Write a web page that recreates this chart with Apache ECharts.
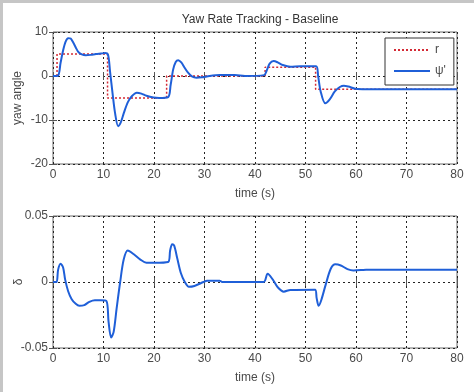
<!DOCTYPE html>
<html>
<head>
<meta charset="utf-8">
<script src="https://cdn.jsdelivr.net/npm/echarts@6/dist/echarts.min.js"></script>
<style>
html,body{margin:0;padding:0;background:#fff;}
#frame{position:absolute;left:0;top:0;width:474px;height:392px;box-sizing:border-box;border-top:3px solid #c6c6c6;border-left:3px solid #c6c6c6;}
#chart{position:absolute;left:0;top:0;width:474px;height:392px;}
</style>
</head>
<body>
<div id="frame"></div>
<div id="chart"></div>
<script>
// ---- data ----
var titleText = 'Yaw Rate Tracking - Baseline';
var xTicks = [0, 10, 20, 30, 40, 50, 60, 70, 80];
var yawTicks = [-20, -10, 0, 10];
var deltaTicks = [-0.05, 0, 0.05];

var refT   = [0, 0.8, 0.8, 10.8, 10.8, 22.5, 22.5, 42, 42, 52, 52, 80];
var refVal = [0, 0,   5,   5,    -5,   -5,   0,    0,  2,  2,  -3, -3];

var yawT = [0,1.0,1.5,2,2.5,3.0,3.5,4,4.5,5,5.7,6.5,7.5,8.5,9.5,10.3,10.9,11.3,11.8,12.3,12.9,13.4,14,14.8,15.6,16.6,17.5,18.5,19.9,21,22.8,23.3,23.8,24.3,24.8,25.4,26,26.7,27.5,28.4,29.5,31,33,36,38,41.8,42.3,42.9,43.7,44.5,45.5,47,49,52.1,52.5,53,53.9,54.8,55.8,56.8,57.6,58.5,59.9,62,70,80];
var yawVal = [0,0.1,3,5.8,7.8,8.6,8.5,7.6,6.5,5.5,4.9,4.7,4.8,5.0,5.1,5.2,4.8,1,-4,-8.5,-11.4,-10.6,-8.5,-6,-4.6,-3.8,-4,-4.5,-4.9,-5,-4.8,-2,1.5,3.2,3.6,3.1,2,0.8,-0.1,-0.4,-0.3,0,0.2,0.2,0,0.2,1.2,2.8,3.4,3.1,2.5,2.1,2.2,2.2,0,-3.5,-6.2,-5.3,-3.5,-2.5,-2.2,-2.4,-2.9,-3,-3,-3];

var deltaT = [0,0.7,1.0,1.5,2.0,2.4,3.0,3.7,4.5,5.2,6.2,7.2,8.3,9.5,10.6,11.0,11.5,12.0,12.6,13.3,14.0,14.8,16,17.3,18.5,20,22.8,23.2,23.6,24.0,24.6,25.3,26.1,26.9,28,29.8,30.5,33,33.5,41.7,42.5,43.5,44.5,45.7,47,51.9,52.2,52.6,53.1,54,55,55.9,57,58.3,59.5,61,62,80];
var deltaVal = [0,0,0.009,0.0138,0.011,0.002,-0.007,-0.013,-0.0165,-0.018,-0.0175,-0.015,-0.0138,-0.0138,-0.0145,-0.03,-0.042,-0.038,-0.02,0,0.017,0.0238,0.021,0.017,0.0146,0.0146,0.0152,0.024,0.0286,0.0275,0.018,0.007,0,-0.0036,-0.003,0,0.001,0.001,0,0,0.0063,0.002,-0.004,-0.0073,-0.006,-0.0058,-0.012,-0.018,-0.014,-0.002,0.01,0.0134,0.0125,0.0098,0.0088,0.009,0.0093,0.0093];

function zip(a, b){ return a.map(function(v,i){ return [v, b[i]]; }); }

var txt = '#4a4a4a';
var font = 'Liberation Sans, Arial, sans-serif';
var grids = [
  {left:53, top:32, width:404, height:132, show:true, borderColor:'#6a6a6a', borderWidth:1, backgroundColor:'#fff', containLabel:false, outerBoundsMode:'none'},
  {left:53, top:216, width:404, height:132, show:true, borderColor:'#6a6a6a', borderWidth:1, backgroundColor:'#fff', containLabel:false, outerBoundsMode:'none'}
];
var split = {show:true, lineStyle:{color:'#222', type:[2,3], width:1}};

function xAx(gi){
  return {type:'value', gridIndex:gi, min:0, max:80, interval:10,
    name:'time (s)', nameLocation:'middle', nameGap:24,
    nameTextStyle:{color:txt, fontSize:12, fontFamily:font},
    axisLine:{show:false}, axisTick:{show:true, inside:true, length:4, lineStyle:{color:'#555'}},
    axisLabel:{color:txt, fontSize:12, fontFamily:font, margin:5},
    splitLine:split};
}
function xTop(gi){
  return {type:'value', gridIndex:gi, min:0, max:80, interval:10, position:'top',
    axisLine:{show:false}, axisTick:{show:true, inside:true, length:4, lineStyle:{color:'#555'}},
    axisLabel:{show:false}, splitLine:{show:false}};
}

var option = {
  animation:false,
  backgroundColor:'transparent',
  title:{text:titleText, left:255, top:9, textAlign:'center',
    textStyle:{fontSize:12, fontWeight:'normal', color:'#333', fontFamily:font}},
  legend:{orient:'vertical', left:385, top:38, padding:[6,8,8,8], itemGap:9,
    itemWidth:36, itemHeight:10, backgroundColor:'#fff', borderColor:'#333', borderWidth:1,
    itemStyle:{opacity:0},
    textStyle:{color:txt, fontSize:12, fontFamily:font},
    data:[{name:'r'},{name:"ψ'"}]},
  grid:grids,
  xAxis:[xAx(0), xAx(1), xTop(0), xTop(1)],
  yAxis:[
    {type:'value', gridIndex:0, min:-20, max:10, interval:10,
      name:'yaw angle', nameLocation:'middle', nameGap:29, nameRotate:90, nameMoveOverlap:false,
      nameTextStyle:{color:txt, fontSize:12, fontFamily:font},
      axisLine:{show:false}, axisTick:{show:true, inside:true, length:4, lineStyle:{color:'#555'}},
      axisLabel:{color:txt, fontSize:12, fontFamily:font, margin:5}, splitLine:split},
    {type:'value', gridIndex:1, min:-0.05, max:0.05, interval:0.05,
      name:'δ', nameLocation:'middle', nameGap:28, nameRotate:90, nameMoveOverlap:false,
      nameTextStyle:{color:txt, fontSize:12, fontFamily:font},
      axisLine:{show:false}, axisTick:{show:true, inside:true, length:4, lineStyle:{color:'#555'}},
      axisLabel:{color:txt, fontSize:12, fontFamily:font, margin:5,
        formatter:function(v){ return Math.abs(v)<1e-9 ? '0' : v.toFixed(2); }}, splitLine:split},
    {type:'value', gridIndex:0, min:-20, max:10, interval:10, position:'right',
      axisLine:{show:false}, axisTick:{show:true, inside:true, length:4, lineStyle:{color:'#555'}},
      axisLabel:{show:false}, splitLine:{show:false}},
    {type:'value', gridIndex:1, min:-0.05, max:0.05, interval:0.05, position:'right',
      axisLine:{show:false}, axisTick:{show:true, inside:true, length:4, lineStyle:{color:'#555'}},
      axisLabel:{show:false}, splitLine:{show:false}}
  ],
  series:[
    {name:'r', type:'line', xAxisIndex:0, yAxisIndex:0, symbol:'none', silent:true,
      data:zip(refT, refVal), lineStyle:{color:'#d42a35', width:1.5, type:[2,2]}, itemStyle:{color:'#d42a35'}, z:3},
    {name:"ψ'", type:'line', xAxisIndex:0, yAxisIndex:0, symbol:'none', smooth:0.3, silent:true,
      data:zip(yawT, yawVal), lineStyle:{color:'#1f5fd8', width:2}, itemStyle:{color:'#1f5fd8'}, z:4},
    {name:'delta', type:'line', xAxisIndex:1, yAxisIndex:1, symbol:'none', smooth:0.3, silent:true,
      data:zip(deltaT, deltaVal), lineStyle:{color:'#1f5fd8', width:2}, itemStyle:{color:'#1f5fd8'}, z:4}
  ]
};
var chart = echarts.init(document.getElementById('chart'), null, {renderer:'canvas'});
chart.setOption(option);
</script>
</body>
</html>
